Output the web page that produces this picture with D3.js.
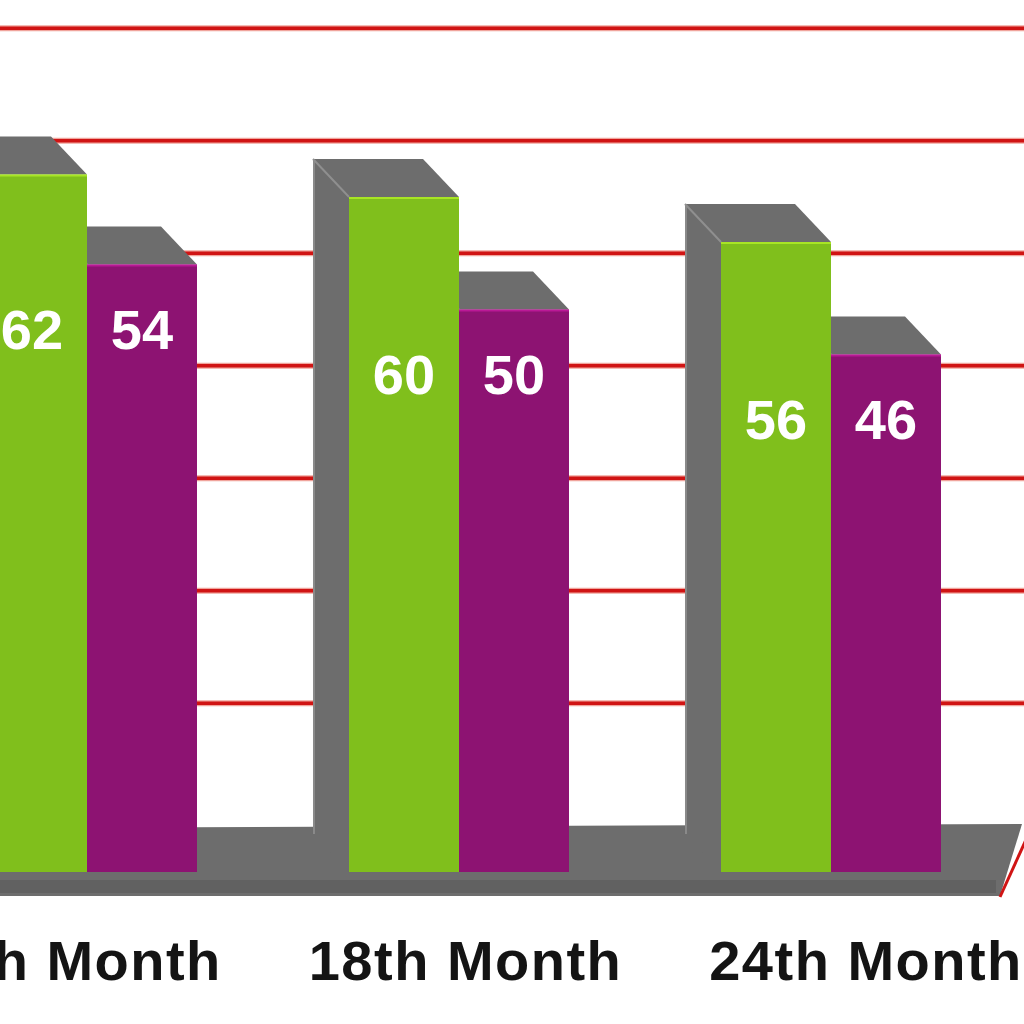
<!DOCTYPE html>
<html>
<head>
<meta charset="utf-8">
<script src="https://cdn.jsdelivr.net/npm/d3@7/dist/d3.min.js"></script>
<style>
  html, body { margin: 0; padding: 0; background: #ffffff; }
  svg { display: block; }
</style>
</head>
<body>
<svg id="chart" width="1024" height="1024"></svg>
<script>
// ---- data ----
const categories = ["12th Month", "18th Month", "24th Month"];
const seriesNames = ["A", "B"];
const seriesA = [62, 60, 56];   // green
const seriesB = [54, 50, 46];   // purple
const gridValues = [15, 25, 35, 45, 55, 65, 75];

// ---- style ----
const colors = { A: "#80bf1c", B: "#8d1372" };
const gray = "#6d6d6d";
const grayDark = "#616161";
const red = "#d01414";
const depth = { dx: -36, dy: -38 };

const W = 1024, H = 1024;
const svg = d3.select("#chart");
svg.append("rect").attr("width", W).attr("height", H).attr("fill", "#ffffff");

const y = d3.scaleLinear().domain([0, 80]).range([872, -28]);
const x = d3.scaleBand().domain(categories).range([-23, 941]).paddingInner(0.4086).paddingOuter(0);
const xs = d3.scaleBand().domain(seriesNames).range([0, x.bandwidth()]).padding(0);
const xLabel = d3.scalePoint().domain(categories).range([65, 866]);

const data = categories.map((c, i) => ({ cat: c, A: seriesA[i], B: seriesB[i] }));

// ---- gridlines ----
const grid = svg.append("g");
grid.selectAll("line.halo").data(gridValues).join("line")
  .attr("x1", 0).attr("x2", W)
  .attr("y1", d => y(d)).attr("y2", d => y(d))
  .attr("stroke", "#f0a49c").attr("stroke-width", 6);
grid.selectAll("line.core").data(gridValues).join("line")
  .attr("x1", 0).attr("x2", W)
  .attr("y1", d => y(d)).attr("y2", d => y(d))
  .attr("stroke", red).attr("stroke-width", 3.5);

// ---- floor ----
const y0 = y(0);
const floorRight = x.range()[1] + 59;
const floor = svg.append("g");
floor.append("polygon")
  .attr("points", [[-10, y0 - 44], [floorRight + 22, y0 - 48], [floorRight, y0 + 24], [-10, y0 + 24]].map(p => p.join(",")).join(" "))
  .attr("fill", gray);
floor.append("rect")
  .attr("x", -10).attr("y", y0 + 8).attr("width", floorRight + 10 - 4).attr("height", 13)
  .attr("fill", grayDark);
floor.append("line")
  .attr("x1", floorRight).attr("y1", y0 + 25)
  .attr("x2", floorRight + 34).attr("y2", y0 - 50)
  .attr("stroke", red).attr("stroke-width", 3);

// ---- 3D bars ----
function drawBar(g, x0, w, v, color, showSide) {
  const top = y(v), x1 = x0 + w;
  const { dx, dy } = depth;
  if (showSide) {
    g.append("polygon")
      .attr("points", [[x0, top], [x0 + dx, top + dy], [x0 + dx, y0 + dy], [x0, y0]].map(p => p.join(",")).join(" "))
      .attr("fill", gray);
    g.append("line")
      .attr("x1", x0 + dx + 1).attr("y1", top + dy).attr("x2", x0 + dx + 1).attr("y2", y0 + dy)
      .attr("stroke", "#8a8a8a").attr("stroke-width", 2);
  }
  g.append("polygon")
    .attr("points", [[x0, top], [x1, top], [x1 + dx, top + dy], [x0 + dx, top + dy]].map(p => p.join(",")).join(" "))
    .attr("fill", gray);
  g.append("line")
    .attr("x1", x0 + dx).attr("y1", top + dy).attr("x2", x0).attr("y2", top)
    .attr("stroke", "#8f8f8f").attr("stroke-width", 2);
  g.append("rect")
    .attr("x", x0).attr("y", top).attr("width", w).attr("height", y0 - top)
    .attr("fill", color);
  g.append("line")
    .attr("x1", x0).attr("x2", x1).attr("y1", top + 1).attr("y2", top + 1)
    .attr("stroke", d3.color(color).brighter(1.2)).attr("stroke-width", 2).attr("opacity", 0.6);
}

const bars = svg.append("g");
data.forEach(d => {
  const g = bars.append("g");
  const gx = x(d.cat);
  drawBar(g, gx + xs("B"), xs.bandwidth(), d.B, colors.B, false);
  drawBar(g, gx + xs("A"), xs.bandwidth(), d.A, colors.A, true);
});

// ---- value labels ----
const labels = svg.append("g")
  .attr("font-family", "'Liberation Sans', Arial, sans-serif")
  .attr("font-weight", "bold").attr("font-size", 56).attr("fill", "#ffffff")
  .attr("text-anchor", "middle");
data.forEach(d => {
  const ly = y(Math.min(d.A, d.B)) + 84;
  seriesNames.forEach(s => {
    labels.append("text")
      .attr("x", x(d.cat) + xs(s) + xs.bandwidth() / 2)
      .attr("y", ly)
      .text(d[s]);
  });
});

// ---- category labels ----
svg.append("g")
  .attr("font-family", "'Liberation Sans', Arial, sans-serif")
  .attr("font-weight", "bold").attr("font-size", 56).attr("fill", "#141414")
  .attr("text-anchor", "middle").attr("letter-spacing", 1.5)
  .selectAll("text").data(categories).join("text")
  .attr("x", d => xLabel(d)).attr("y", 980)
  .text(d => d);
</script>
</body>
</html>
